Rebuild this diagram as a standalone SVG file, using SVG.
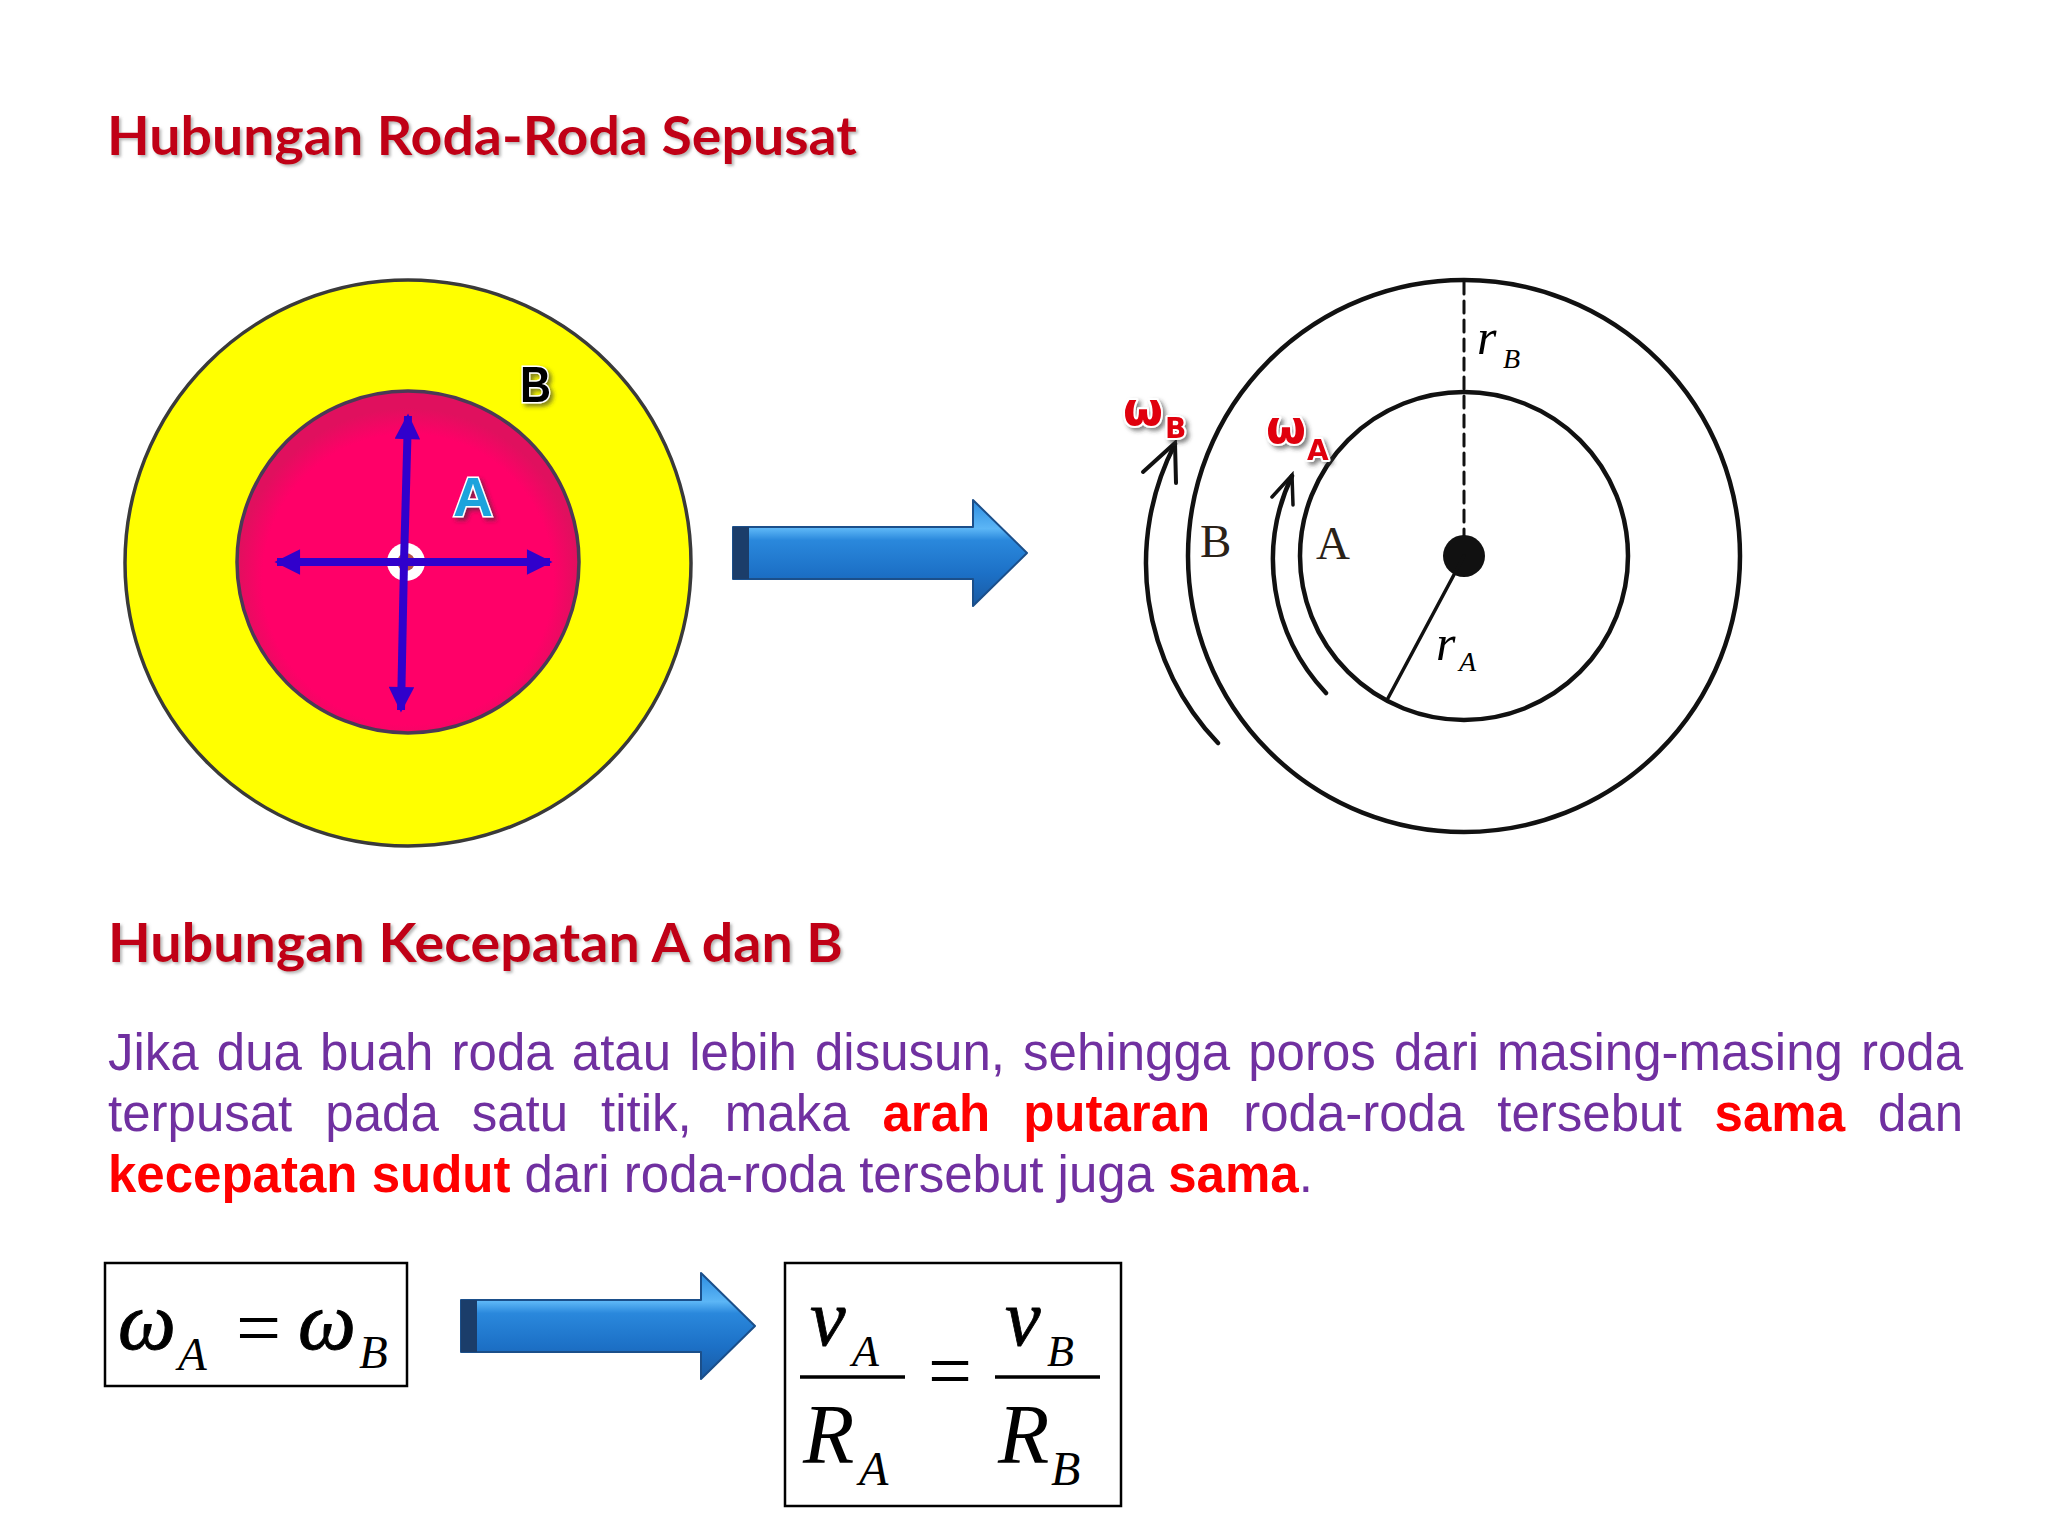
<svg xmlns="http://www.w3.org/2000/svg" width="2048" height="1536" viewBox="0 0 2048 1536">
<defs>
<style>
.head{font-family:Lato,"Open Sans",sans-serif;font-weight:700;font-size:54px;fill:#C00018}
.para{font-family:"Liberation Sans",Arial,sans-serif;font-size:51px;fill:#7030A0}
.b{font-weight:700;fill:#FF0000}
.math{font-family:"Liberation Serif","Times New Roman",serif;font-style:italic;fill:#000}
.mreg{font-family:"Liberation Serif","Times New Roman",serif;fill:#000}
.ink{fill:none;stroke:#111;stroke-linecap:round}
.lbl{font-family:"Liberation Serif","Times New Roman",serif;fill:#2a2218}
.om{font-family:"DejaVu Sans","Liberation Sans",sans-serif;font-weight:700;fill:#E00010;stroke:#fff;stroke-width:4;paint-order:stroke;stroke-linejoin:round}
.box{fill:none;stroke:#000;stroke-width:2.5}
.cross{stroke:#3000CC;stroke-width:8;fill:none}
</style>
<filter id="sh" x="-10%" y="-20%" width="130%" height="150%">
<feDropShadow dx="2" dy="2" stdDeviation="1.5" flood-color="#777" flood-opacity="0.55"/>
</filter>
<filter id="sh2" x="-20%" y="-20%" width="150%" height="150%">
<feDropShadow dx="3" dy="3" stdDeviation="2" flood-color="#333" flood-opacity="0.6"/>
</filter>
<linearGradient id="ag" x1="0" y1="0" x2="0" y2="1">
<stop offset="0" stop-color="#2C8CE0"/>
<stop offset="0.27" stop-color="#5CB6F6"/>
<stop offset="0.38" stop-color="#2A88DC"/>
<stop offset="0.7" stop-color="#1C70C6"/>
<stop offset="1" stop-color="#1A5AA2"/>
</linearGradient>
<radialGradient id="pink" cx="0.5" cy="0.55" r="0.5">
<stop offset="0.85" stop-color="#FF0068"/>
<stop offset="1" stop-color="#E0105E"/>
</radialGradient>
<marker id="bh" viewBox="0 0 10 10" refX="9" refY="5" markerWidth="3.6" markerHeight="3.2" orient="auto-start-reverse" markerUnits="strokeWidth">
<path d="M0,0 L10,5 L0,10 Z" fill="#3000CC"/>
</marker>
<g id="bigArrow">
<path d="M0,-26 H240 V-53 L294,0 L240,53 V26 H0 Z" fill="url(#ag)" stroke="#1B4F8A" stroke-width="2" stroke-linejoin="round"/>
<rect x="0" y="-26" width="16" height="52" fill="#1B3D6A"/>
</g>
</defs>

<rect width="2048" height="1536" fill="#fff"/>

<g id="title1" filter="url(#sh)"><text class="head" x="107" y="155" textLength="750" lengthAdjust="spacingAndGlyphs">Hubungan Roda-Roda Sepusat</text></g>

<g id="wheel-left">
<circle cx="408" cy="563" r="283" fill="#FFFF00" stroke="#3A3A3A" stroke-width="3.5"/>
<circle cx="408" cy="562" r="171" fill="url(#pink)" stroke="#4A3A55" stroke-width="3.5"/>
<circle cx="406" cy="562" r="19" fill="#fff"/>
<circle cx="406" cy="562" r="9" fill="#B5524A"/>
<line class="cross" x1="404" y1="562" x2="408" y2="416" marker-end="url(#bh)"/>
<line class="cross" x1="404" y1="562" x2="401" y2="710" marker-end="url(#bh)"/>
<line class="cross" x1="404" y1="562" x2="277" y2="562" marker-end="url(#bh)"/>
<line class="cross" x1="404" y1="562" x2="550" y2="562" marker-end="url(#bh)"/>
<text x="520" y="402" font-family="Liberation Sans,Arial,sans-serif" font-weight="700" font-size="50" fill="#000" stroke="#fff" stroke-width="3" paint-order="stroke" filter="url(#sh2)" textLength="31" lengthAdjust="spacingAndGlyphs">B</text>
<text x="453" y="516" font-family="Liberation Sans,Arial,sans-serif" font-weight="700" font-size="56" fill="#1CA3DC" stroke="#fff" stroke-width="3" paint-order="stroke" filter="url(#sh2)" textLength="40" lengthAdjust="spacingAndGlyphs">A</text>
</g>

<g id="connectors">
<use href="#bigArrow" x="733" y="553"/>
<use href="#bigArrow" x="461" y="1326"/>
</g>

<g id="wheel-right">
<circle class="ink" cx="1464" cy="556" r="276" stroke-width="4.5"/>
<circle class="ink" cx="1464" cy="556" r="164" stroke-width="4.5"/>
<line class="ink" x1="1464" y1="282" x2="1464" y2="538" stroke-width="3" stroke-dasharray="12 7" stroke-linecap="butt"/>
<circle cx="1464" cy="556" r="21" fill="#111"/>
<line class="ink" x1="1464" y1="556" x2="1387" y2="700" stroke-width="3.5"/>
<path class="ink" d="M1218,743 A260,260 0 0 1 1175,444" stroke-width="4.5"/>
<polyline class="ink" points="1143,472 1175,443 1176,483" stroke-width="4" stroke-linejoin="miter"/>
<path class="ink" d="M1326,693 A194,194 0 0 1 1292,476" stroke-width="4.5"/>
<polyline class="ink" points="1272,497 1292,475 1293,505" stroke-width="3.5" stroke-linejoin="miter"/>
<text class="lbl" x="1200" y="557" font-size="47">B</text>
<text class="lbl" x="1316" y="559" font-size="47">A</text>
<text class="math" x="1477" y="354" font-size="50" fill="#2a2218">r</text>
<text class="math" x="1503" y="368" font-size="28" fill="#2a2218">B</text>
<text class="math" x="1436" y="660" font-size="50" fill="#2a2218">r</text>
<text class="math" x="1459" y="671" font-size="28" fill="#2a2218">A</text>
<g filter="url(#sh2)">
<text class="om" x="1123" y="425" font-size="46">ω</text>
<text class="om" x="1165" y="438" font-size="28">B</text>
<text class="om" x="1266" y="443" font-size="46">ω</text>
<text class="om" x="1307" y="460" font-size="28">A</text>
</g>
</g>

<g id="title2" filter="url(#sh)"><text class="head" x="108" y="962" textLength="735" lengthAdjust="spacingAndGlyphs">Hubungan Kecepatan A dan B</text></g>

<g id="paragraph">
<text class="para" y="1070"><tspan x="108">Jika</tspan><tspan x="216.8">dua</tspan><tspan x="320">buah</tspan><tspan x="451.6">roda</tspan><tspan x="571.8">atau</tspan><tspan x="689.2">lebih</tspan><tspan x="815">disusun,</tspan><tspan x="1023.1">sehingga</tspan><tspan x="1248.2">poros</tspan><tspan x="1394">dari</tspan><tspan x="1497.1">masing-masing</tspan><tspan x="1861">roda</tspan></text>
<text class="para" y="1131"><tspan x="108">terpusat</tspan><tspan x="325.3">pada</tspan><tspan x="471.7">satu</tspan><tspan x="601.1">titik,</tspan><tspan x="724.8">maka</tspan><tspan x="882.5" class="b">arah</tspan><tspan x="1023.2" class="b">putaran</tspan><tspan x="1243.2">roda-roda</tspan><tspan x="1497.3">tersebut</tspan><tspan x="1714.6" class="b">sama</tspan><tspan x="1878">dan</tspan></text>
<text class="para" x="108" y="1192"><tspan class="b">kecepatan sudut</tspan> dari roda-roda tersebut juga <tspan class="b">sama</tspan>.</text>
</g>

<g id="formula1">
<rect class="box" x="105" y="1263" width="302" height="123"/>
<text class="math" x="118" y="1349" font-size="82" stroke="#000" stroke-width="1">ω</text>
<text class="math" x="178" y="1370" font-size="47">A</text>
<text class="mreg" x="236" y="1355" font-size="80">=</text>
<text class="math" x="298" y="1349" font-size="82" stroke="#000" stroke-width="1">ω</text>
<text class="math" x="359" y="1368" font-size="47">B</text>
</g>

<g id="formula2">
<rect class="box" x="785" y="1263" width="336" height="243"/>
<text class="math" x="810" y="1345" font-size="80" stroke="#000" stroke-width="0.8">v</text>
<text class="math" x="852" y="1366" font-size="44">A</text>
<line x1="800" y1="1377" x2="905" y2="1377" stroke="#000" stroke-width="3.5"/>
<text class="math" x="803" y="1463" font-size="84">R</text>
<text class="math" x="859" y="1485" font-size="48">A</text>
<text class="mreg" x="928" y="1397" font-size="78">=</text>
<text class="math" x="1005" y="1345" font-size="80" stroke="#000" stroke-width="0.8">v</text>
<text class="math" x="1047" y="1366" font-size="44">B</text>
<line x1="995" y1="1377" x2="1100" y2="1377" stroke="#000" stroke-width="3.5"/>
<text class="math" x="998" y="1463" font-size="84">R</text>
<text class="math" x="1051" y="1485" font-size="48">B</text>
</g>
</svg>
